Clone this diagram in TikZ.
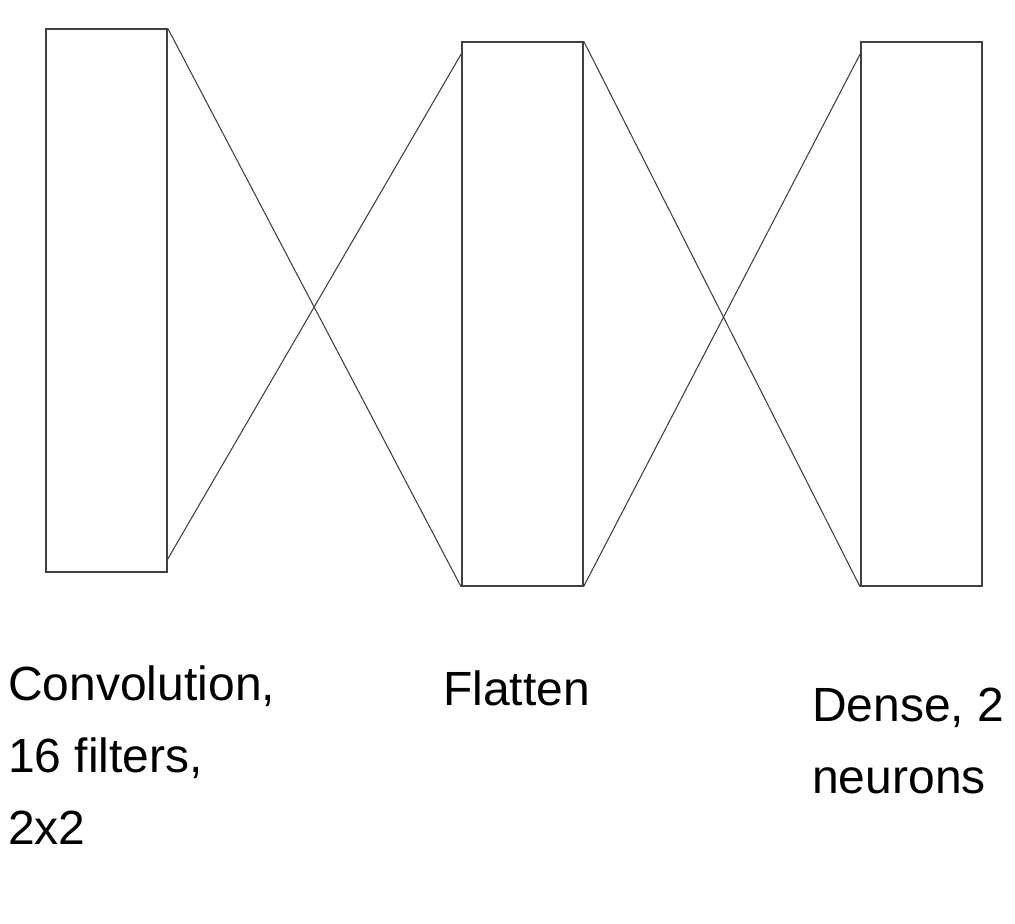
\documentclass[tikz,border=0pt]{standalone}
\usepackage{fontspec}
\setmainfont{Liberation Sans}
\begin{document}
\begin{tikzpicture}[x=0.75pt,y=-0.75pt,
  layer/.style={draw=black!75,line width=1.2pt,minimum width=121*0.75pt,inner sep=0pt,anchor=north west},
  link/.style={draw=black!75,line width=0.8pt},
  lbl/.style={font=\fontsize{36}{54}\selectfont,align=left,anchor=north west,inner sep=0pt}]
\useasboundingbox (0,0) rectangle (1015,924);
\node[layer,minimum height=543*0.75pt] (c) at (45,28) {};
\node[layer,minimum height=544*0.75pt] (f) at (461,41) {};
\node[layer,minimum height=544*0.75pt] (d) at (860,41) {};
\draw[link] (c.north east) -- (f.south west);
\draw[link] ([yshift=10pt]c.south east) -- ([yshift=-10pt]f.north west);
\draw[link] (f.north east) -- (d.south west);
\draw[link] (f.south east) -- ([yshift=-10pt]d.north west);
\node[lbl] (t1) at (8,665) {Convolution,\\16 filters,\\2x2};
\node[lbl] (t2) at (443,670) {Flatten};
\node[lbl] (t3) at (812,688) {Dense, 2\\neurons};
\end{tikzpicture}
\end{document}
